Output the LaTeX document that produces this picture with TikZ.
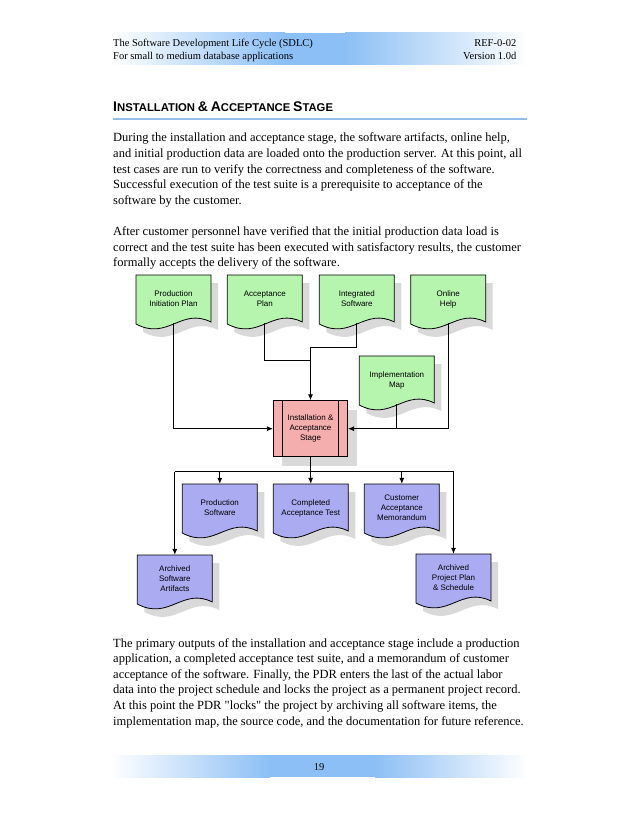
\documentclass[tikz,border=0pt]{standalone}
\usepackage{fontspec}
\setmainfont{Liberation Serif}
\newfontfamily\arialfont{Liberation Sans}
\newfontfamily\plainserif{Liberation Serif}
\usetikzlibrary{arrows.meta}

\definecolor{docgreen}{HTML}{B5F5AE}
\definecolor{docblue}{HTML}{ABABF2}
\definecolor{stagepink}{HTML}{F5AEAE}
\definecolor{shadowgray}{HTML}{D9D9D9}
\definecolor{bandblue}{HTML}{8CBFF5}
\definecolor{ruleblue}{HTML}{92BDE8}

\tikzset{
  body/.style={anchor=base west,inner sep=0pt,font=\fontsize{12.5}{15}\selectfont},
  head/.style={inner sep=0pt,font=\fontsize{10.5}{12}\selectfont},
  doclabel/.style={align=center,inner sep=0pt,minimum width=75,minimum height=48,
    font=\arialfont\fontsize{8}{10}\selectfont},
  stagebox/.style={draw,fill=stagepink,line width=0.8pt,minimum width=74.4,minimum height=56,
    align=center,inner sep=0pt,font=\arialfont\fontsize{8}{10}\selectfont},
  link/.style={line width=0.8pt,-{Latex[length=6pt,width=5pt]}},
}

% document shape, top left corner at (0,0)
\newcommand{\docpath}{(0,0) -- (75,0) -- (75,47) .. controls (45,32) and (32,66) .. (0,49) -- cycle}
% name, x, y, colour, text
\newcommand{\docnode}[5]{%
  \fill[shadowgray,shift={(#2+7,#3+8)}] \docpath;
  \filldraw[fill=#4,line width=0.8pt,shift={(#2,#3)}] \docpath;
  \node[doclabel] (#1) at (#2+37.5,#3+24) {#5};
}
\newcommand{\smc}[2]{{\fontsize{14}{16}\selectfont #1}{\fontsize{11.3}{13}\selectfont #2}}

\begin{document}
\begin{tikzpicture}[x=1pt,y=-1pt]
        \useasboundingbox (0,0) rectangle (638,826);
        % header band
        \shade[left color=white,right color=bandblue] (110,33) rectangle (285,65);
        \fill[bandblue] (285,33) rectangle (345,65);
        \shade[left color=bandblue,right color=white] (345,33) rectangle (528,65);
        \node[head,anchor=base west] (hl1) at (113,47) {The Software Development Life Cycle (SDLC)};
        \node[head,anchor=base west] (hl2) at (113,60) {For small to medium database applications};
        \node[head,anchor=base east] (hr1) at (516.5,47) {REF-0-02};
        \node[head,anchor=base east] (hr2) at (516.5,60) {Version 1.0d};

        % title
        \node[anchor=base west,inner sep=0pt,font=\arialfont\bfseries] (title) at (113,112)
          {\smc{I}{NSTALLATION} {\fontsize{14}{16}\selectfont\&} \smc{A}{CCEPTANCE} \smc{S}{TAGE}};
        \draw[ruleblue,line width=2pt] (113,119) -- (527,119);

        % text before the diagram
        \node[body] (p1a) at (113,142) {During the installation and acceptance stage, the software artifacts, online help,};
        \node[body] (p1b) at (113,157.6) {and initial production data are loaded onto the production server. At this point, all};
        \node[body] (p1c) at (113,173.2) {test cases are run to verify the correctness and completeness of the software.};
        \node[body] (p1d) at (113,188.8) {Successful execution of the test suite is a prerequisite to acceptance of the};
        \node[body] (p1e) at (113,204.4) {software by the customer.};
        \node[body] (p2a) at (113,235.6) {After customer personnel have verified that the initial production data load is};
        \node[body] (p2b) at (113,251.2) {correct and the test suite has been executed with satisfactory results, the customer};
        \node[body] (p2c) at (113,266.8) {formally accepts the delivery of the software.};

        % inputs
        \docnode{pip}{136}{275}{docgreen}{Production\\Initiation Plan}
        \docnode{ap}{227.3}{275}{docgreen}{Acceptance\\Plan}
        \docnode{isw}{319.3}{275}{docgreen}{Integrated\\Software}
        \docnode{help}{410.7}{275}{docgreen}{Online\\Help}
        \docnode{imap}{359.3}{356}{docgreen}{Implementation\\Map}

        % stage
        \fill[shadowgray] (282.3,409.7) rectangle (356.7,465.7);
        \node[stagebox] (stage) at (310.5,428.7) {Installation \&\\Acceptance\\Stage};
        \draw[line width=0.8pt] ([xshift=9.4pt]stage.north west) -- ([xshift=9.4pt]stage.south west);
        \draw[line width=0.8pt] ([xshift=-9.4pt]stage.north east) -- ([xshift=-9.4pt]stage.south east);

        % outputs
        \docnode{psw}{182.3}{484}{docblue}{Production\\Software}
        \docnode{cat}{273.3}{484}{docblue}{Completed\\Acceptance Test}
        \docnode{cam}{364.3}{484}{docblue}{Customer\\Acceptance\\Memorandum}
        \docnode{ass}{137.3}{555}{docblue}{Archived\\Software\\Artifacts}
        \docnode{app}{416}{554}{docblue}{Archived\\Project Plan\\\& Schedule}

        % connectors in
        \coordinate (jin) at (310.5,347);
        \coordinate (jap) at (310.5,360);
        \draw[link] (pip.south) |- (stage.west);
        \draw[link] (help.south) |- (stage.east);
        \draw[line width=0.8pt] (imap.south) -- (imap.south |- stage.east);
        \draw[link] (isw.south) |- (jin) -- (stage.north);
        \draw[line width=0.8pt] (ap.south) |- (jap);

        % connectors out
        \coordinate (jout) at (310.5,471.7);
        \draw[line width=0.8pt] (stage.south) -- (jout);
        \draw[line width=0.8pt] (ass.north |- jout) -- (app.north |- jout);
        \draw[link] (ass.north |- jout) -- (ass.north);
        \draw[link] (psw.north |- jout) -- (psw.north);
        \draw[link] (jout) -- (cat.north);
        \draw[link] (cam.north |- jout) -- (cam.north);
        \draw[link] (app.north |- jout) -- (app.north);

        % text after the diagram
        \node[body] (p3a) at (113,647) {The primary outputs of the installation and acceptance stage include a production};
        \node[body] (p3b) at (113,662.6) {application, a completed acceptance test suite, and a memorandum of customer};
        \node[body] (p3c) at (113,678.2) {acceptance of the software. Finally, the PDR enters the last of the actual labor};
        \node[body] (p3d) at (113,693.8) {data into the project schedule and locks the project as a permanent project record.};
        \node[body] (p3e) at (113,709.4) {At this point the PDR {\plainserif"}locks{\plainserif"} the project by archiving all software items, the};
        \node[body] (p3f) at (113,725) {implementation map, the source code, and the documentation for future reference.};

        % footer band
        \shade[left color=white,right color=bandblue] (110,755) rectangle (270,777);
        \fill[bandblue] (270,755) rectangle (375,777);
        \shade[left color=bandblue,right color=white] (375,755) rectangle (528,777);
        \node[head,anchor=base] (page) at (319,770) {19};
\end{tikzpicture}
\end{document}
